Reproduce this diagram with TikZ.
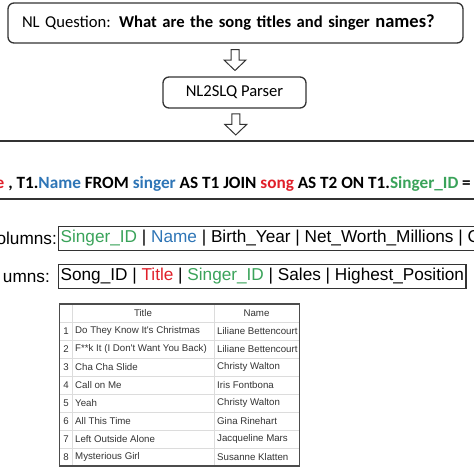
\documentclass[tikz,border=0pt]{standalone}
\usepackage{fontspec}
\setmainfont{Carlito}
\newfontfamily\arialfont{Liberation Sans}
\usetikzlibrary{calc,positioning}
\definecolor{sqlblue}{HTML}{2E75B6}
\definecolor{sqlred}{HTML}{E0202A}
\definecolor{sqlgreen}{HTML}{3AA35A}
\definecolor{edgegray}{HTML}{333333}
\definecolor{gridgray}{HTML}{DCDCDC}
\definecolor{celltext}{HTML}{333333}
\tikzset{
  box/.style={draw=edgegray,line width=1.3pt,rounded corners=6pt,
              font=\fontsize{16.6}{19}\selectfont},
  cols/.style={draw=edgegray,line width=1.2pt,inner xsep=2pt,inner ysep=0pt,
               minimum height=24pt,font=\arialfont\fontsize{17.2}{19}\selectfont},
  collabel/.style={inner sep=0pt,font=\arialfont\fontsize{17.2}{19}\selectfont},
  cell/.style={inner sep=0pt,text=celltext,font=\arialfont\fontsize{9.7}{10}\selectfont},
  grid/.style={draw=gridgray,line width=0.6pt},
  blockarrow/.pic={
    \draw[edgegray,line width=1pt,fill=white]
      (-4,-10.5) -- (4,-10.5) -- (4,0) -- (11,0) -- (0,10.5) -- (-11,0) -- (-4,0) -- cycle;}
}
\begin{document}
\begin{tikzpicture}[x=1pt,y=-1pt]
  \useasboundingbox (0,0) rectangle (474,474);
  \clip (0,0) rectangle (474,474);

  % question and parser
  \node[box,minimum width=455pt,minimum height=40pt,text width=427pt,
        inner xsep=14pt,align=left] (question) at (235.5,23)
    {NL Question: \textbf{What are the song titles and singer
     {\fontsize{18.5}{19}\selectfont names?}}};
  \node[box,minimum width=143pt,minimum height=31pt] (parser) at (234.5,92.5)
    {NL2SLQ Parser};

  % SQL query (cut at both sides)
  \node[draw=edgegray,line width=1.5pt,minimum width=500pt,minimum height=58pt]
    (sql) at (237,170) {};
  \node[inner sep=0pt,anchor=base east,font=\bfseries\fontsize{17.2}{19}\selectfont]
    (sqltext) at (471,188)
    {{\color{sqlred}e} , T1.{\color{sqlblue}Name} FROM {\color{sqlblue}singer}
     AS T1 JOIN {\color{sqlred}song} AS T2 ON T1.{\color{sqlgreen}Singer\_ID} =};

  \pic at ($(question.south)!0.5!(parser.north)$) {blockarrow};
  \pic at ($(parser.south)!0.5!(sql.north)$) {blockarrow};

  % columns
  \node[collabel,anchor=base east] (singerlabel) at (57,244) {olumns:};
  \node[cols,anchor=west] (singercols) at (58,238.5)
    {{\color{sqlgreen}Singer\_ID} | {\color{sqlblue}Name} | Birth\_Year |
     Net\_Worth\_Millions | C};
  \node[collabel,anchor=base east] (songlabel) at (50,282) {umns:};
  \node[cols,anchor=west] (songcols) at (58,276.5)
    {Song\_ID | {\color{sqlred}Title} | {\color{sqlgreen}Singer\_ID} | Sales |
     Highest\_Position};

  % result table
  \foreach \r in {0,...,7}
    \draw[grid] (59.5,{322+18*\r}) -- (299.5,{322+18*\r});
  \draw[grid] (72,304) -- (72,466);
  \draw[grid] (214,304) -- (214,466);
  \draw[draw=black!70,line width=1.2pt] (59.5,304) rectangle (299.5,466);
  \node[cell] (htitle) at (143,313) {Title};
  \node[cell] (hname) at (256.5,313) {Name};
  \foreach \i/\t/\n in {1/Do They Know It's Christmas/Liliane Bettencourt,
      2/F**k It (I Don't Want You Back)/Liliane Bettencourt,
      3/Cha Cha Slide/Christy Walton,4/Call on Me/Iris Fontbona,
      5/Yeah/Christy Walton,6/All This Time/Gina Rinehart,
      7/Left Outside Alone/Jacqueline Mars,8/Mysterious Girl/Susanne Klatten}{
    \node[cell] (idx\i) at (66,{331+18*(\i-1)}) {\i};
    \node[cell,anchor=west] (title\i) at (75,{331+18*(\i-1)}) {\t};
    \node[cell,anchor=west] (name\i) at (217,{331+18*(\i-1)}) {\n};
  }
\end{tikzpicture}
\end{document}
